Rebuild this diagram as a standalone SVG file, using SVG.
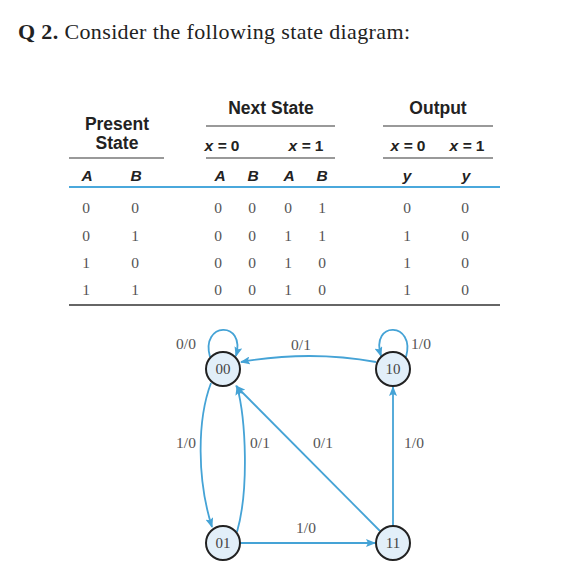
<svg xmlns="http://www.w3.org/2000/svg" width="583" height="562" viewBox="0 0 583 562">
<defs>
<marker id="ah" markerWidth="10" markerHeight="8" refX="9" refY="4" orient="auto" markerUnits="userSpaceOnUse">
<path d="M0,0 L10,4 L0,8 L2,4 Z" fill="#45a3d6"/>
</marker>
</defs>
<style>
.title{font-family:"Liberation Serif",serif;font-size:22px;fill:#222}
.hd{font-family:"Liberation Sans",Arial,sans-serif;font-weight:bold;font-size:17.5px;fill:#222;text-anchor:middle}
.hi{font-family:"Liberation Sans",Arial,sans-serif;font-weight:bold;font-style:italic;font-size:15.5px;fill:#222;text-anchor:middle}
.d{font-family:"Liberation Serif",serif;font-size:15.5px;fill:#555;text-anchor:middle}
.rule{stroke:#777;stroke-width:1.5}
.node circle{fill:#e2eff9;stroke:#222;stroke-width:2}
.node text{font-family:"Liberation Serif",serif;font-size:15px;fill:#444;text-anchor:middle}
.edge{fill:none;stroke:#45a3d6;stroke-width:1.8;marker-end:url(#ah)}
.lbl{font-family:"Liberation Serif",serif;font-size:15.5px;fill:#555;text-anchor:middle}
</style>
<rect width="583" height="562" fill="#fff"/>
<text class="title" x="18" y="39" textLength="392" lengthAdjust="spacing"><tspan font-weight="bold">Q 2.</tspan> Consider the following state diagram:</text>

<g id="table">
<text class="hd" x="117" y="130">Present</text>
<text class="hd" x="117" y="149">State</text>
<text class="hd" x="271" y="114">Next State</text>
<text class="hd" x="438" y="114">Output</text>
<line class="rule" x1="206" y1="126" x2="335" y2="126"/>
<line class="rule" x1="383" y1="126" x2="493" y2="126"/>
<text class="hi" x="222" y="151">x = <tspan font-style="normal">0</tspan></text>
<text class="hi" x="306" y="151">x = <tspan font-style="normal">1</tspan></text>
<text class="hi" x="408" y="151">x = <tspan font-style="normal">0</tspan></text>
<text class="hi" x="467" y="151">x = <tspan font-style="normal">1</tspan></text>
<line class="rule" x1="69" y1="158" x2="164" y2="158"/>
<line class="rule" x1="206" y1="158" x2="335" y2="158"/>
<line class="rule" x1="383" y1="158" x2="493" y2="158"/>
<text class="hi" x="87" y="181">A</text>
<text class="hi" x="136" y="181">B</text>
<text class="hi" x="220" y="181">A</text>
<text class="hi" x="253" y="181">B</text>
<text class="hi" x="289" y="181">A</text>
<text class="hi" x="322" y="181">B</text>
<text class="hi" x="407" y="181">y</text>
<text class="hi" x="466" y="181">y</text>
<line x1="69" y1="187" x2="500" y2="187" stroke="#4aa8dc" stroke-width="2.2"/>
<g class="d">
<text x="86" y="213">0</text><text x="135" y="213">0</text><text x="218" y="213">0</text><text x="252" y="213">0</text><text x="288" y="213">0</text><text x="322" y="213">1</text><text x="407" y="213">0</text><text x="465" y="213">0</text>
<text x="86" y="241">0</text><text x="135" y="241">1</text><text x="218" y="241">0</text><text x="252" y="241">0</text><text x="288" y="241">1</text><text x="322" y="241">1</text><text x="407" y="241">1</text><text x="465" y="241">0</text>
<text x="86" y="268">1</text><text x="135" y="268">0</text><text x="218" y="268">0</text><text x="252" y="268">0</text><text x="288" y="268">1</text><text x="322" y="268">0</text><text x="407" y="268">1</text><text x="465" y="268">0</text>
<text x="86" y="295">1</text><text x="135" y="295">1</text><text x="218" y="295">0</text><text x="252" y="295">0</text><text x="288" y="295">1</text><text x="322" y="295">0</text><text x="407" y="295">1</text><text x="465" y="295">0</text>
</g>
<line x1="69" y1="305" x2="500" y2="305" stroke="#666" stroke-width="2"/>
</g>

<g id="connectors">
<path class="edge" d="M210,357 C200,322 246,320 236,356"/>
<path class="edge" d="M406,357 C416,322 370,320 381,356"/>
<path class="edge" d="M376,362 Q310,350 241,362"/>
<path class="edge" d="M211,383 C197,420 197,480 212,527"/>
<path class="edge" d="M237,532 C249,490 246,420 237,386"/>
<path class="edge" d="M380,531 L236,386"/>
<path class="edge" d="M393,526 L393,387"/>
<path class="edge" d="M240,543 L375,543"/>
<text class="lbl" x="186" y="349">0/0</text>
<text class="lbl" x="301" y="350">0/1</text>
<text class="lbl" x="421" y="349">1/0</text>
<text class="lbl" x="186" y="448">1/0</text>
<text class="lbl" x="260" y="448">0/1</text>
<text class="lbl" x="323" y="448">0/1</text>
<text class="lbl" x="414" y="448">1/0</text>
<text class="lbl" x="306" y="533">1/0</text>
</g>

<g id="s00" class="node"><circle cx="223" cy="369" r="17"/><text x="223" y="374">00</text></g>
<g id="s10" class="node"><circle cx="393" cy="369" r="17"/><text x="393" y="374">10</text></g>
<g id="s01" class="node"><circle cx="223" cy="543" r="17"/><text x="223" y="548">01</text></g>
<g id="s11" class="node"><circle cx="393" cy="543" r="17"/><text x="393" y="548">11</text></g>
</svg>
